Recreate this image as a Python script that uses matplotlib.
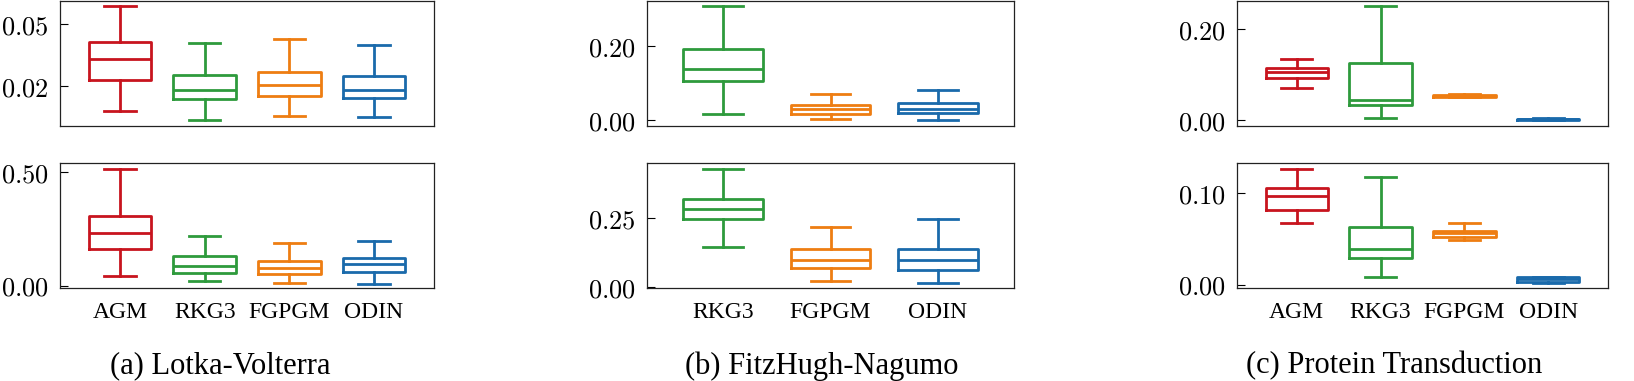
import matplotlib.pyplot as plt

plt.rcParams['mathtext.fontset'] = 'cm'

# method names per panel
lv_methods = ['AGM', 'RKG3', 'FGPGM', 'ODIN']
fhn_methods = ['RKG3', 'FGPGM', 'ODIN']
pt_methods = ['AGM', 'RKG3', 'FGPGM', 'ODIN']

method_colors = {'AGM': '#c8141e', 'RKG3': '#2e9a3c',
                 'FGPGM': '#ee7d12', 'ODIN': '#1a6aab'}

# box stats per method: (whisker low, q1, median, q3, whisker high)
lv_top = [(0.0081, 0.0229, 0.0331, 0.0413, 0.0589),
          (0.0036, 0.0139, 0.0182, 0.0253, 0.0408),
          (0.0055, 0.0155, 0.0206, 0.0269, 0.0427),
          (0.0050, 0.0142, 0.0182, 0.0248, 0.0398)]
lv_bottom = [(0.043, 0.161, 0.233, 0.3065, 0.513),
             (0.021, 0.0585, 0.088, 0.132, 0.219),
             (0.0145, 0.0514, 0.0805, 0.110, 0.188),
             (0.0075, 0.060, 0.0985, 0.123, 0.198)]

fhn_top = [(0.0162, 0.105, 0.138, 0.192, 0.309),
           (0.0027, 0.0162, 0.0305, 0.0405, 0.0703),
           (0.0, 0.019, 0.0305, 0.0459, 0.081)]
fhn_bottom = [(0.144, 0.246, 0.283, 0.320, 0.428),
              (0.0207, 0.068, 0.099, 0.138, 0.217),
              (0.0157, 0.062, 0.100, 0.138, 0.246)]

pt_top = [(0.0703, 0.0936, 0.106, 0.115, 0.134),
          (0.0044, 0.033, 0.044, 0.126, 0.251),
          (0.0505, 0.0512, 0.0534, 0.0556, 0.0578),
          (0.0, 0.001, 0.002, 0.003, 0.0044)]
pt_bottom = [(0.0673, 0.0815, 0.097, 0.1055, 0.126),
             (0.0084, 0.029, 0.0389, 0.0636, 0.1175),
             (0.049, 0.0524, 0.0564, 0.0593, 0.0676),
             (0.0025, 0.0033, 0.0062, 0.0084, 0.0091)]

# y axis ticks and limits
lv_top_ticks, lv_top_labels, lv_top_ylim = [0.05, 0.02], ['0.05', '0.02'], (0.0008, 0.0611)
lv_bot_ticks, lv_bot_labels, lv_bot_ylim = [0.5, 0.0], ['0.50', '0.00'], (-0.0088, 0.541)
fhn_top_ticks, fhn_top_labels, fhn_top_ylim = [0.2, 0.0], ['0.20', '0.00'], (-0.0154, 0.3216)
fhn_bot_ticks, fhn_bot_labels, fhn_bot_ylim = [0.25, 0.0], ['0.25', '0.00'], (-0.0036, 0.451)
pt_top_ticks, pt_top_labels, pt_top_ylim = [0.2, 0.0], ['0.20', '0.00'], (-0.0125, 0.2615)
pt_bot_ticks, pt_bot_labels, pt_bot_ylim = [0.1, 0.0], ['0.10', '0.00'], (-0.0033, 0.133)

captions = ['(a) Lotka-Volterra', '(b) FitzHugh-Nagumo', '(c) Protein Transduction']

W, H = 1634, 381
fig = plt.figure(figsize=(W / 100, H / 100), dpi=100)


def make_axes(x0, x1, y0, y1):
    # pixel box -> figure fraction
    return fig.add_axes([x0 / W, 1 - y1 / H, (x1 - x0) / W, (y1 - y0) / H])


def draw_boxes(ax, stats, methods, ticks, labels, ylim, show_names):
    bstats = [{'whislo': s[0], 'q1': s[1], 'med': s[2], 'q3': s[3],
               'whishi': s[4], 'fliers': []} for s in stats]
    pos = list(range(1, len(methods) + 1))
    parts = ax.bxp(bstats, positions=pos, widths=0.74, showfliers=False)
    lw = 2.0
    for i, m in enumerate(methods):
        c = method_colors[m]
        parts['boxes'][i].set(color=c, linewidth=lw)
        parts['medians'][i].set(color=c, linewidth=lw)
        for art in parts['whiskers'][2 * i:2 * i + 2] + parts['caps'][2 * i:2 * i + 2]:
            art.set(color=c, linewidth=lw)
    ax.set_xlim(0.29, len(methods) + 0.71)
    ax.set_ylim(*ylim)
    ax.set_yticks(ticks)
    ax.set_yticklabels(['$' + t + '$' for t in labels], fontsize=19)
    ax.tick_params(axis='y', direction='in', length=6, width=0.8, pad=8)
    if show_names:
        ax.set_xticks(pos)
        ax.set_xticklabels(methods, fontsize=17, family='Liberation Serif')
        ax.tick_params(axis='x', length=0, pad=10)
    else:
        ax.set_xticks([])
    for sp in ax.spines.values():
        sp.set_linewidth(0.9)
        sp.set_color('#222222')


cols = [(60, 434), (647, 1014), (1237, 1608)]
rows = [(1.3, 126), (163, 288)]

panels = [
    (lv_methods, lv_top, lv_bottom,
     (lv_top_ticks, lv_top_labels, lv_top_ylim), (lv_bot_ticks, lv_bot_labels, lv_bot_ylim)),
    (fhn_methods, fhn_top, fhn_bottom,
     (fhn_top_ticks, fhn_top_labels, fhn_top_ylim), (fhn_bot_ticks, fhn_bot_labels, fhn_bot_ylim)),
    (pt_methods, pt_top, pt_bottom,
     (pt_top_ticks, pt_top_labels, pt_top_ylim), (pt_bot_ticks, pt_bot_labels, pt_bot_ylim)),
]

for (x0, x1), (methods, top, bottom, ttop, tbot) in zip(cols, panels):
    ax_t = make_axes(x0, x1, *rows[0])
    draw_boxes(ax_t, top, methods, *ttop, show_names=False)
    ax_b = make_axes(x0, x1, *rows[1])
    draw_boxes(ax_b, bottom, methods, *tbot, show_names=True)

caption_x = [220, 822, 1394]
for cx, txt in zip(caption_x, captions):
    fig.text(cx / W, 1 - 366 / H, txt, ha='center', va='center',
             fontsize=22, family='Liberation Serif')

fig.savefig('out.png', dpi=100, facecolor='white')
